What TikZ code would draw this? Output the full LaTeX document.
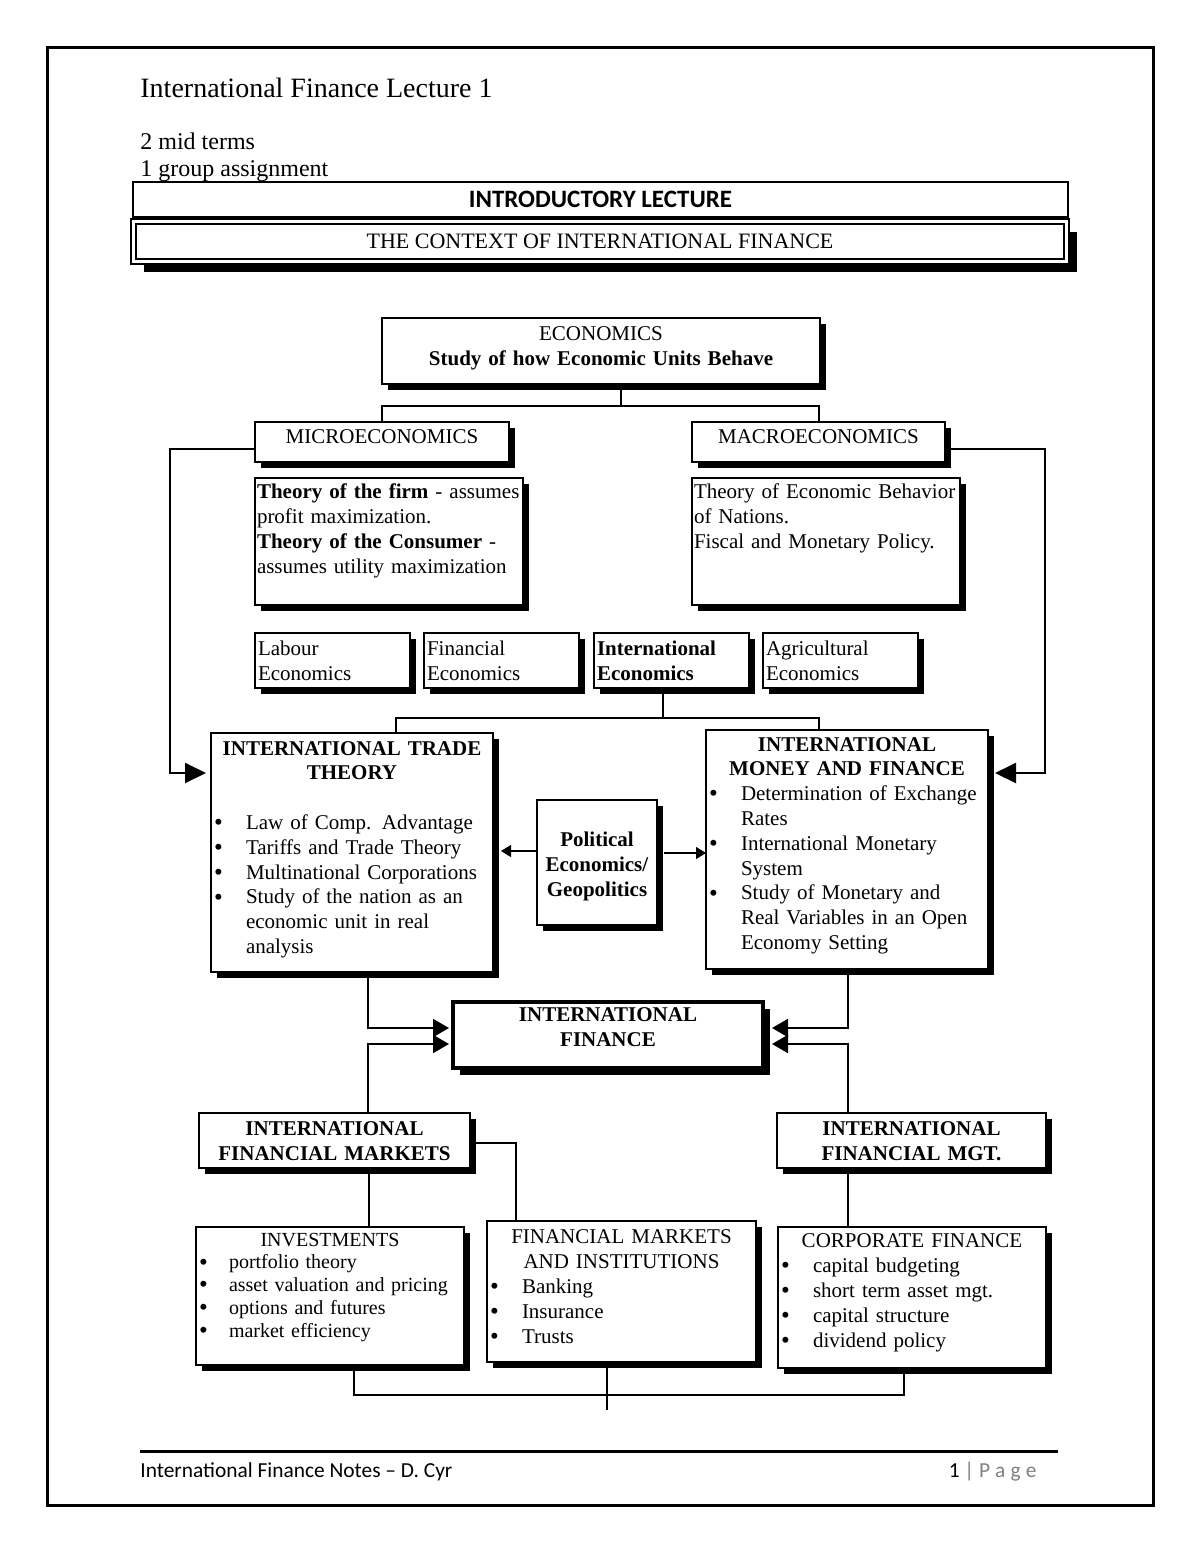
\documentclass[tikz,border=0pt]{standalone}
\usepackage{fontspec}
\setmainfont{Liberation Serif}
\newfontfamily\calibri{Carlito}
\usetikzlibrary{arrows.meta,shadows}
\hyphenpenalty=10000
\newcommand{\bitem}[1][16pt]{\makebox[#1][l]{\raisebox{-0.6pt}{\fontsize{12.5}{12}\selectfont\textbullet}}}
\newcommand{\bcont}[1][16pt]{\hspace*{#1}}

\begin{document}
\begin{tikzpicture}[x=0.5pt,y=-0.5pt,
  boxbase/.style={draw,fill=white,line width=0.8pt,inner xsep=1.5pt,inner ysep=2pt,outer sep=0pt,
    anchor=north west,align=left,font=\fontsize{10.5}{12.5}\selectfont},
  box/.style={boxbase,drop shadow={shadow xshift=3pt,shadow yshift=-3pt,opacity=1,fill=black}},
  heavybox/.style={boxbase,line width=2pt,drop shadow={shadow xshift=3.5pt,shadow yshift=-3.5pt,opacity=1,fill=black}},
  link/.style={line width=1pt},
  thinlink/.style={line width=0.6pt},
  bigtip/.style={-{Triangle[length=10.5pt,width=10pt]}},
  midtip/.style={-{Triangle[length=8pt,width=9pt]}},
  smalltip/.style={-{Triangle[length=5pt,width=6pt]}}]
\useasboundingbox[fill=white] (0,0) rectangle (1200,1553);
% page frame and footer rule
\draw[line width=1.5pt] (47,47) rectangle (1153,1505);
\draw[line width=1.5pt] (140,1451) -- (1058,1451);

% header
\node[anchor=base west,inner sep=0pt,font=\fontsize{14}{16}\selectfont] (title) at (140,97) {International Finance Lecture 1};
\node[anchor=base west,inner sep=0pt,font=\fontsize{12}{14}\selectfont] (midterms) at (140,149) {2 mid terms};
\node[anchor=base west,inner sep=0pt,font=\fontsize{12}{14}\selectfont] (group) at (140,176) {1 group assignment};
\node[draw,fill=white,line width=1pt,minimum width=467.5pt,minimum height=17.5pt,inner sep=0pt,
  font=\calibri\bfseries\fontsize{12.5}{14}\selectfont] (intro) at (600.5,199.5) {INTRODUCTORY LECTURE};
\node[draw,fill=white,line width=1pt,double,double distance=1.5pt,minimum width=466.5pt,minimum height=20pt,inner sep=0pt,
  font=\fontsize{11}{13}\selectfont,drop shadow={shadow xshift=5pt,shadow yshift=-5pt,opacity=1,fill=black}] (context) at (600,241.5) {THE CONTEXT OF INTERNATIONAL FINANCE};

% economics
\node[box,text width=216pt,text height=9pt,text depth=20pt,align=center] (econ) at (382,318) {ECONOMICS\\\textbf{Study of how Economic Units Behave}};
\node[box,text width=124pt,text height=8.5pt,text depth=7.5pt,align=center] (micro) at (255,422) {MICROECONOMICS};
\node[box,text width=123.5pt,text height=8.5pt,text depth=7.5pt,align=center] (macro) at (692,422) {MACROECONOMICS};
\node[box,inner xsep=1pt,text width=132pt,text height=8pt,text depth=51.5pt] (microtxt) at (255,478) {\mbox{\textbf{Theory of the firm} - assumes}\\profit maximization.\\\mbox{\textbf{Theory of the Consumer} -}\\\mbox{assumes utility maximization}};
\node[box,inner xsep=1pt,text width=132pt,text height=8pt,text depth=51.5pt] (macrotxt) at (692,478) {\mbox{Theory of Economic Behavior}\\of Nations.\\Fiscal and Monetary Policy.};

% fields
\node[box,text width=74.5pt,text height=9pt,text depth=14.5pt] (labour) at (255,633) {Labour\\Economics};
\node[box,text width=74.5pt,text height=9pt,text depth=14.5pt] (financial) at (424,633) {Financial\\Economics};
\node[box,text width=74.5pt,text height=9pt,text depth=14.5pt] (intecon) at (594,633) {\textbf{International}\\\textbf{Economics}};
\node[box,text width=74.5pt,text height=9pt,text depth=14.5pt] (agri) at (763,633) {Agricultural\\Economics};

% trade and money
\node[box,text width=138pt,text height=9pt,text depth=106.5pt,font=\fontsize{10.5}{12.4}\selectfont] (trade) at (211,733) {\makebox[\linewidth]{\textbf{INTERNATIONAL TRADE}}\\\makebox[\linewidth]{\textbf{THEORY}}\\[12.4pt]
  \bitem Law of Comp. Advantage\\\bitem Tariffs and Trade Theory\\\bitem Multinational Corporations\\\bitem Study of the nation as an\\\bcont economic unit in real\\\bcont analysis};
\node[box,text width=138pt,text height=8.5pt,text depth=107pt,font=\fontsize{10.5}{12.4}\selectfont] (money) at (706,730) {\makebox[\linewidth]{\textbf{INTERNATIONAL}}\\\makebox[\linewidth]{\textbf{MONEY AND FINANCE}}\\
  \bitem Determination of Exchange\\\bcont Rates\\\bitem International Monetary\\\bcont System\\\bitem Study of Monetary and\\\bcont Real Variables in an Open\\\bcont Economy Setting};
\node[box,text width=57pt,text height=21pt,text depth=37.5pt,align=center] (pol) at (537,800) {\textbf{Political}\\\textbf{Economics/}\\\textbf{Geopolitics}};

% international finance
\node[heavybox,text width=152pt,text height=7.5pt,text depth=21.5pt,align=center] (intfin) at (453,1002) {\textbf{INTERNATIONAL}\\\textbf{FINANCE}};
\node[box,text width=132.5pt,text height=9pt,text depth=14.5pt,align=center] (ifm) at (199,1113) {\textbf{INTERNATIONAL}\\\textbf{FINANCIAL MARKETS}};
\node[box,text width=131.5pt,text height=9pt,text depth=14.5pt,align=center] (ifmgt) at (777,1113) {\textbf{INTERNATIONAL}\\\textbf{FINANCIAL MGT.}};

% bottom row
\node[box,text width=131pt,text height=7.5pt,text depth=57.5pt,font=\fontsize{10}{11.4}\selectfont] (invest) at (196,1227) {\makebox[\linewidth]{INVESTMENTS}\\
  \bitem[15pt]portfolio theory\\\bitem[15pt]asset valuation and pricing\\\bitem[15pt]options and futures\\\bitem[15pt]market efficiency};
\node[box,text width=131.5pt,text height=9pt,text depth=57.5pt] (finmkt) at (487,1221) {\makebox[\linewidth]{FINANCIAL MARKETS}\\\makebox[\linewidth]{AND INSTITUTIONS}\\
  \bitem Banking\\\bitem Insurance\\\bitem Trusts};
\node[box,text width=131pt,text height=8pt,text depth=58.5pt] (corp) at (778,1227) {\makebox[\linewidth]{CORPORATE FINANCE}\\
  \bitem capital budgeting\\\bitem short term asset mgt.\\\bitem capital structure\\\bitem dividend policy};

% footer
\node[anchor=base west,inner sep=0pt,font=\calibri\fontsize{10.7}{13}\selectfont] (foot) at (140,1477) {International Finance Notes – D. Cyr};
\node[anchor=base east,inner sep=0pt,font=\calibri\fontsize{10.7}{13}\selectfont] (page) at (1037,1477) {1 {\color{gray}|} {\color{gray}\addfontfeatures{LetterSpace=25}Page}};

% joins and rails
\coordinate (econjoin) at (621,406);
\coordinate (leftrail) at (170,600);
\coordinate (rightrail) at (1045,600);
\coordinate (tradejoin) at (663,718);
\coordinate (botjoin) at (607,1395);
\coordinate (botend) at (607,1410);

% connectors
\draw[link] ([xshift=10pt]econ.south) -- (econjoin);
\draw[link] (micro.north) |- (econjoin) -| (macro.north);
\draw[link,bigtip,shorten >=2.5pt] ([yshift=-3.5pt]micro.west) -| (leftrail) |- ([yshift=39.75pt]trade.west);
\draw[link,bigtip] ([yshift=-3.5pt]macro.east) -| (rightrail) |- ([xshift=3.5pt,yshift=38.25pt]money.east);
\draw[link] ([xshift=-4.25pt]intecon.south) -- (tradejoin);
\draw[link] ([xshift=22pt]trade.north) |- (tradejoin) -| ([xshift=-14pt]money.north);
\draw[thinlink,smalltip] ([yshift=5.75pt]pol.west) -- ([xshift=4pt,yshift=0.75pt]trade.east);
\draw[thinlink,smalltip] ([xshift=3.5pt,yshift=4.75pt]pol.east) -- ([yshift=-1.75pt]money.west);
\draw[link,midtip,shorten >=2pt] ([xshift=8pt]trade.south) |- ([yshift=3.5pt]intfin.west);
\draw[link,midtip,shorten >=2pt] ([xshift=16.75pt]ifm.north) |- ([yshift=-4.5pt]intfin.west);
\draw[link,midtip] ([xshift=0.5pt]money.south) |- ([xshift=4.5pt,yshift=3.5pt]intfin.east);
\draw[link,midtip] ([xshift=-31.75pt]ifmgt.north) |- ([xshift=4.5pt,yshift=-4.5pt]intfin.east);
\draw[link] ([xshift=3pt,yshift=-1.25pt]ifm.east) -| ([xshift=-52.75pt]finmkt.north);
\draw[link] ([xshift=17.25pt]ifm.south) -- ([xshift=19.5pt]invest.north);
\draw[link] ([xshift=-31.75pt]ifmgt.south) -- ([xshift=-32pt]corp.north);
\draw[link] ([xshift=12pt]invest.south) |- (botjoin) -| ([xshift=-4pt]corp.south);
\draw[link] ([xshift=-7.25pt]finmkt.south) -- (botend);
\end{tikzpicture}
\end{document}
